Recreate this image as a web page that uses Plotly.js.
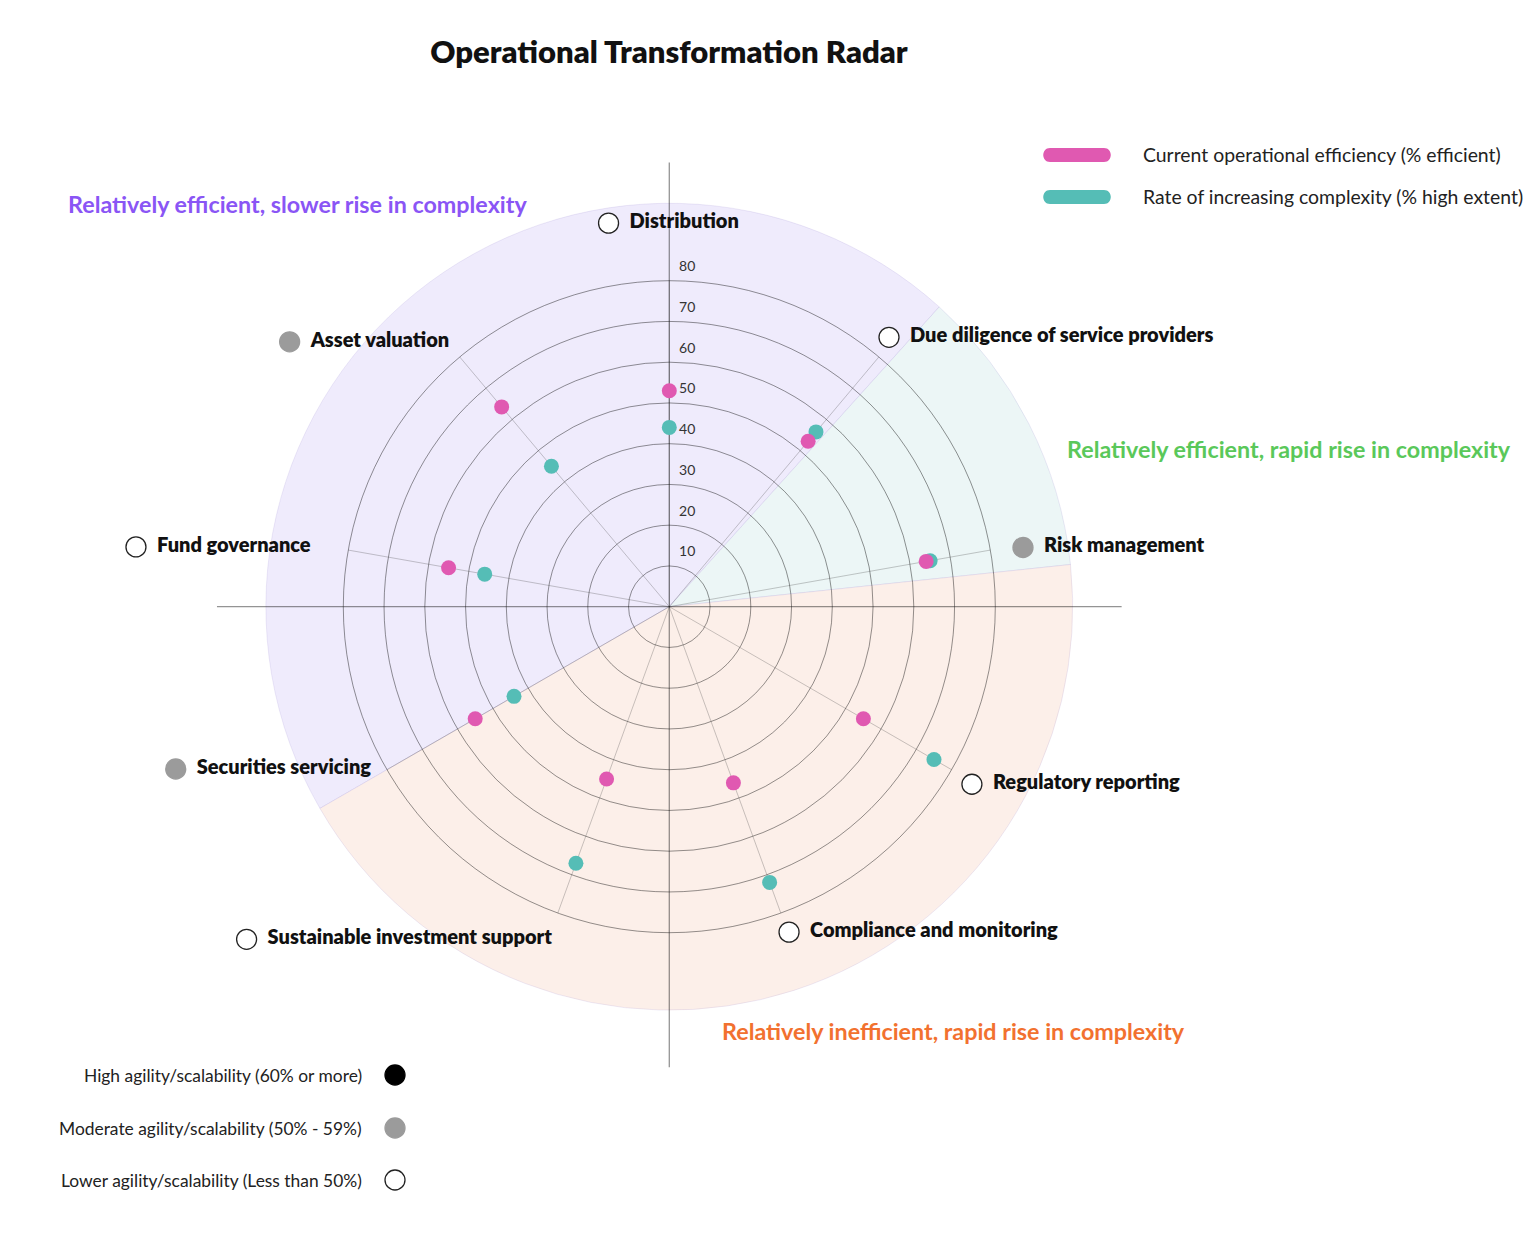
<!DOCTYPE html>
<html>
<head>
<meta charset="utf-8">
<script src="https://cdn.plot.ly/plotly-3.0.1.min.js"></script>
<style>
  html, body { margin: 0; padding: 0; background: #fff; }
  #radar { width: 1536px; height: 1236px; }
</style>
</head>
<body>
<div id="radar"></div>
<script>
// data
var categories = ['Distribution', 'Due diligence of service providers', 'Risk management',
  'Regulatory reporting', 'Compliance and monitoring', 'Sustainable investment support',
  'Securities servicing', 'Fund governance', 'Asset valuation'];
var efficiency = [53, 53, 64, 55, 46, 45, 55, 55, 64];   // Current operational efficiency (% efficient)
var complexity = [44, 56, 65, 75, 72, 67, 44, 46, 45];   // Rate of increasing complexity (% high extent)
var agility = ['Lower', 'Lower', 'Moderate', 'Lower', 'Lower', 'Lower', 'Moderate', 'Lower', 'Moderate'];
var radialTicks = [10, 20, 30, 40, 50, 60, 70, 80];

// background zones (degrees, clockwise from top)
var zoneNames = ['Relatively efficient, slower rise in complexity',
  'Relatively efficient, rapid rise in complexity',
  'Relatively inefficient, rapid rise in complexity'];
var zoneFrom = [240, 42, 84];
var zoneTo = [402, 84, 240];
var zoneFill = ['#EFEBFC', '#ECF6F6', '#FCEFE9'];
var zoneText = ['#8A55F5', '#5AC85A', '#F2712F'];

var agilityLevels = ['High', 'Moderate', 'Lower'];
var agilityNames = ['High agility/scalability (60% or more)',
  'Moderate agility/scalability (50% - 59%)',
  'Lower agility/scalability (Less than 50%)'];
var agilityFill = {High: '#000000', Moderate: '#9B9B9B', Lower: '#FFFFFF'};
var agilityEdge = {High: '#000000', Moderate: '#9B9B9B', Lower: '#222222'};

// where each category label sits (r in axis units, theta in degrees)
var labelR = [95.3, 85.3, 88.0, 86.1, 85.1, 132.0, 127.5, 131.7, 113.6];
var labelTheta = [351.0, 39.2, 80.5, 120.4, 159.8, 231.8, 251.8, 276.4, 304.9];

var PINK = '#E059B1', TEAL = '#55BDB6';
var FONT = 'Lato, "Noto Sans", sans-serif';

var step = 360 / categories.length;
var catTheta = categories.map(function (c, i) { return i * step; });

// spokes to the 80 ring
var spokeR = [], spokeT = [];
catTheta.forEach(function (t) { spokeR.push(0, 80, null); spokeT.push(t, t, null); });

var traces = [];

// zones on the lower polar
traces.push({
  type: 'barpolar', subplot: 'polar',
  r: zoneFrom.map(function () { return 99; }),
  theta: zoneFrom.map(function (f, i) { return (f + zoneTo[i]) / 2; }),
  width: zoneFrom.map(function (f, i) { return zoneTo[i] - f; }),
  marker: {color: zoneFill, line: {width: 0.6, color: 'rgba(140,120,200,0.25)'}},
  text: zoneNames, hoverinfo: 'text', showlegend: false
});

// category label text
traces.push({
  type: 'scatterpolar', subplot: 'polar2', mode: 'markers+text',
  r: labelR, theta: labelTheta, text: categories, textposition: 'middle right',
  marker: {size: 32, color: 'rgba(0,0,0,0)'},
  textfont: {family: FONT, size: 20, color: '#111111', weight: 800},
  hoverinfo: 'skip', showlegend: false, cliponaxis: false
});

traces.push({
  type: 'scatterpolar', subplot: 'polar2', mode: 'lines',
  r: spokeR, theta: spokeT,
  line: {color: 'rgba(60,60,60,0.28)', width: 1},
  hoverinfo: 'skip', showlegend: false
});

// cross axes
traces.push({
  type: 'scatterpolar', subplot: 'polar2', mode: 'lines',
  r: [0, 109, null, 0, 111, null, 0, 113, null, 0, 111],
  theta: [0, 0, null, 90, 90, null, 180, 180, null, 270, 270],
  line: {color: 'rgba(0,0,0,0.42)', width: 1.3},
  hoverinfo: 'skip', showlegend: false
});

// radial tick labels, sitting just above each ring
traces.push({
  type: 'scatterpolar', subplot: 'polar2', mode: 'markers+text',
  r: radialTicks.map(function (v) { return v + 3.2; }),
  theta: radialTicks.map(function () { return 0; }),
  text: radialTicks.map(String), textposition: 'middle right',
  marker: {size: 14, color: 'rgba(0,0,0,0)'},
  textfont: {family: FONT, size: 14, color: '#333333'},
  hoverinfo: 'skip', showlegend: false
});

traces.push({
  type: 'scatterpolar', subplot: 'polar2', mode: 'markers',
  name: 'Rate of increasing complexity (% high extent)',
  r: complexity, theta: catTheta, text: categories,
  marker: {size: 15, color: TEAL}, showlegend: false
});
traces.push({
  type: 'scatterpolar', subplot: 'polar2', mode: 'markers',
  name: 'Current operational efficiency (% efficient)',
  r: efficiency, theta: catTheta, text: categories,
  marker: {size: 15, color: PINK}, showlegend: false
});

// agility markers next to labels
traces.push({
  type: 'scatterpolar', subplot: 'polar2', mode: 'markers',
  r: labelR, theta: labelTheta, text: agility,
  marker: {
    size: 20,
    color: agility.map(function (a) { return agilityFill[a]; }),
    line: {width: 1.3, color: agility.map(function (a) { return agilityEdge[a]; })}
  },
  hoverinfo: 'text', showlegend: false, cliponaxis: false
});

var W = 1536, H = 1236;
function px(x) { return x / W; }
function py(y) { return 1 - y / H; }

var polarDomain = {x: [px(98.8), px(1239.8)], y: [py(1177.2), py(36.2)]};

var annotations = [
  {x: px(66), y: py(204), xanchor: 'left', text: zoneNames[0], color: zoneText[0]},
  {x: px(1065), y: py(449), xanchor: 'left', text: zoneNames[1], color: zoneText[1]},
  {x: px(720), y: py(1031), xanchor: 'left', text: zoneNames[2], color: zoneText[2]}
].map(function (a) {
  return {xref: 'paper', yref: 'paper', x: a.x, y: a.y, xanchor: a.xanchor, yanchor: 'middle',
    text: a.text, showarrow: false, font: {family: FONT, size: 23.3, color: a.color, weight: 700}};
});

// series key, top right
var keyNames = ['Current operational efficiency (% efficient)', 'Rate of increasing complexity (% high extent)'];
var keyColors = [PINK, TEAL];
var keyY = [155, 197];
var shapes = [];
keyNames.forEach(function (n, i) {
  annotations.push({xref: 'paper', yref: 'paper', x: px(1141), y: py(keyY[i]), xanchor: 'left', yanchor: 'middle',
    text: n, showarrow: false, font: {family: FONT, size: 19.4, color: '#222222'}});
  shapes.push({type: 'path', xref: 'paper', yref: 'paper', xsizemode: 'pixel', ysizemode: 'pixel',
    xanchor: px(1043), yanchor: py(keyY[i]),
    path: 'M 7,-7 L 61,-7 C 70,-7 70,7 61,7 L 7,7 C -2,7 -2,-7 7,-7 Z',
    fillcolor: keyColors[i], line: {width: 0}});
});

// agility key, bottom left
var agiY = [1075, 1128, 1180];
agilityLevels.forEach(function (lv, i) {
  annotations.push({xref: 'paper', yref: 'paper', x: px(364), y: py(agiY[i]), xanchor: 'right', yanchor: 'middle',
    text: agilityNames[i], showarrow: false, font: {family: FONT, size: 17.4, color: '#222222'}});
  shapes.push({type: 'circle', xref: 'paper', yref: 'paper', xsizemode: 'pixel', ysizemode: 'pixel',
    xanchor: px(395), yanchor: py(agiY[i]), x0: -10, x1: 10, y0: -10, y1: 10,
    fillcolor: agilityFill[lv], line: {width: 1.3, color: agilityEdge[lv]}});
});

var layout = {
  width: W, height: H,
  margin: {l: 0, r: 0, t: 0, b: 0},
  paper_bgcolor: '#ffffff',
  showlegend: false,
  title: {text: 'Operational Transformation Radar', x: px(669), xanchor: 'center',
    y: py(52), yanchor: 'middle', yref: 'container',
    font: {family: FONT, size: 31, color: '#111111', weight: 800}},
  polar: {
    domain: polarDomain, bgcolor: 'rgba(0,0,0,0)',
    radialaxis: {range: [0, 140], visible: false},
    angularaxis: {type: 'linear', rotation: 90, direction: 'clockwise', visible: false}
  },
  polar2: {
    domain: polarDomain, bgcolor: 'rgba(0,0,0,0)',
    radialaxis: {range: [0, 140], tickvals: radialTicks, showticklabels: false, ticks: '',
      showline: false, gridcolor: 'rgba(0,0,0,0.42)', gridwidth: 1, angle: 90},
    angularaxis: {type: 'linear', rotation: 90, direction: 'clockwise', showgrid: false,
      showticklabels: false, ticks: '', showline: false}
  },
  annotations: annotations,
  shapes: shapes
};

Plotly.newPlot('radar', traces, layout, {displayModeBar: false, staticPlot: true});
</script>
</body>
</html>
